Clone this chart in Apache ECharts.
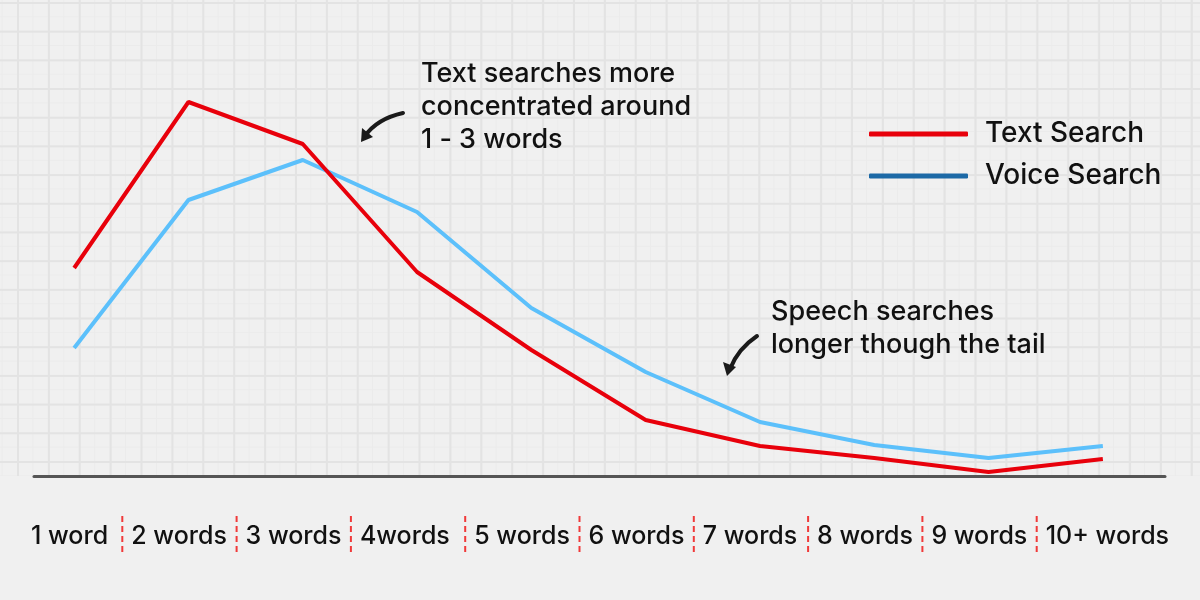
<!DOCTYPE html>
<html>
<head>
<meta charset="utf-8">
<script src="https://cdn.jsdelivr.net/npm/echarts@6/dist/echarts.min.js"></script>
<style>
  html, body { margin: 0; padding: 0; background: #f0f0f0; }
  #wrap { position: relative; width: 1200px; height: 600px; }
  #paper {
    position: absolute; left: 0; top: 0; width: 1200px; height: 476px;
    background-color: #f0f0f0;
    background-image:
      linear-gradient(to right, #e3e3e3 2px, transparent 2px),
      linear-gradient(to bottom, #e3e3e3 2px, transparent 2px),
      linear-gradient(to right, #ebebeb 1px, transparent 1px),
      linear-gradient(to bottom, #ebebeb 1px, transparent 1px);
    background-size: 30.9px 28.7px, 30.9px 28.7px, 15.45px 14.35px, 15.45px 14.35px;
    background-position: 17px 2px, 17px 2px, 17px 2px, 17px 2px;
  }
  #chart { position: absolute; left: 0; top: 0; width: 1200px; height: 600px; }
</style>
</head>
<body>
<div id="wrap"><div id="paper"></div><div id="chart"></div></div>
<script>
const categories = ['1 word', '2 words', '3 words', '4words', '5 words', '6 words', '7 words', '8 words', '9 words', '10+ words'];
const textSearch  = [52, 93.5, 83, 51, 31.5, 14, 7.5, 4.5, 1, 4.25];
const voiceSearch = [32, 69, 79, 66, 42, 26, 13.5, 7.75, 4.5, 7.5];
const seriesNames = ['Text Search', 'Voice Search'];
const note1 = ['Text searches more', 'concentrated around', '1 - 3 words'];
const note2 = ['Speech searches', 'longer though the tail'];

const FONT = 'Inter';
const chart = echarts.init(document.getElementById('chart'));

function noteText(lines, x, y) {
  return {
    type: 'text', left: x, top: y, z: 10, silent: true,
    style: { text: lines.join('\n'), fontFamily: FONT, fontSize: 27, fontWeight: 500,
             lineHeight: 33, fill: '#111' }
  };
}

chart.setOption({
  backgroundColor: 'transparent',
  animation: false,
  grid: [
    { left: 17, right: 40, top: 76, bottom: 124 },
    { left: 34, right: 35, top: 76, bottom: 124 }
  ],
  xAxis: [
    { type: 'category', data: categories, gridIndex: 0, boundaryGap: true,
      axisLine: { show: false }, axisTick: { show: false }, axisLabel: { show: false }, splitLine: { show: false } },
    { type: 'value', gridIndex: 1, min: 0, max: 1,
      axisLine: { show: true, onZero: false, lineStyle: { color: '#555', width: 3 } },
      axisTick: { show: false }, axisLabel: { show: false }, splitLine: { show: false } }
  ],
  yAxis: [
    { type: 'value', gridIndex: 0, min: 0, max: 100, show: false },
    { type: 'value', gridIndex: 1, min: 0, max: 1, show: false }
  ],
  legend: {
    orient: 'vertical', left: 864, top: 113, itemWidth: 99, itemHeight: 5, itemGap: 10,
    icon: 'roundRect',
    data: [
      { name: seriesNames[0], itemStyle: { color: '#e8000b' } },
      { name: seriesNames[1], itemStyle: { color: '#1c69a6' } }
    ],
    formatter: n => '{t|' + n + '}',
    textStyle: {
      color: '#111', fontFamily: FONT, fontSize: 28, fontWeight: 500, lineHeight: 32,
      rich: { t: { padding: [0, 0, 0, 12], fontFamily: FONT, fontSize: 28, fontWeight: 500, color: '#111', lineHeight: 32 } }
    }
  },
  graphic: [
    noteText(note1, 421, 57),
    noteText(note2, 771, 295),
    { type: 'bezierCurve', z: 10, silent: true,
      shape: { x1: 403, y1: 113, cpx1: 385, cpy1: 117, cpx2: 372, cpy2: 126, x2: 365, y2: 136 },
      style: { stroke: '#1a1a1a', lineWidth: 4, lineCap: 'round' } },
    { type: 'polygon', z: 10, silent: true,
      shape: { points: [[361, 142], [362, 128], [373, 137]] }, style: { fill: '#1a1a1a' } },
    { type: 'bezierCurve', z: 10, silent: true,
      shape: { x1: 757, y1: 336, cpx1: 745, cpy1: 344, cpx2: 735, cpy2: 356, x2: 730, y2: 369 },
      style: { stroke: '#1a1a1a', lineWidth: 4, lineCap: 'round' } },
    { type: 'polygon', z: 10, silent: true,
      shape: { points: [[727, 376], [723, 362], [736, 367]] }, style: { fill: '#1a1a1a' } }
  ],
  series: [
    { name: seriesNames[1], type: 'line', data: voiceSearch, symbol: 'none',
      lineStyle: { color: '#5cc0fb', width: 4 }, itemStyle: { color: '#5cc0fb' } },
    { name: seriesNames[0], type: 'line', data: textSearch, symbol: 'none',
      lineStyle: { color: '#e8000b', width: 4 }, itemStyle: { color: '#e8000b' } },
    { type: 'custom', name: 'labels', data: categories.map((c, i) => [i, 0]), silent: true, clip: false,
      renderItem: function (params, api) {
        const i = params.dataIndex;
        const cx = api.coord([api.value(0), 0])[0];
        const band = api.size([1, 0])[0];
        const left = cx - band / 2;
        const children = [{
          type: 'text',
          style: { text: categories[i], x: left + (i === 0 ? 14 : 0), y: 536,
                   align: 'left', verticalAlign: 'middle',
                   fontFamily: FONT, fontSize: 25, fontWeight: 500, fill: '#111' }
        }];
        if (i > 0) {
          children.push({ type: 'line',
            shape: { x1: left - 9, y1: 516, x2: left - 9, y2: 556 },
            style: { stroke: '#f03a3a', lineWidth: 2, lineDash: [6, 4] } });
        }
        return { type: 'group', children: children };
      }
    }
  ]
});
</script>
</body>
</html>
